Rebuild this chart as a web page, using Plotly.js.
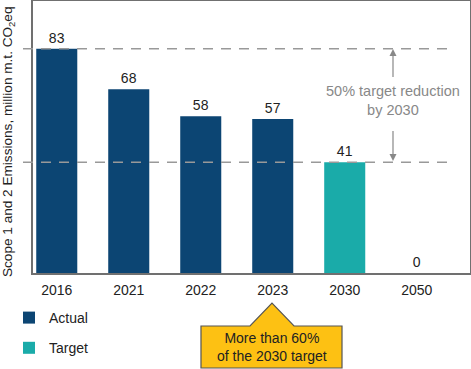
<!DOCTYPE html>
<html><head><meta charset="utf-8">
<script src="https://cdn.plot.ly/plotly-3.0.1.min.js"></script>
<style>html,body{margin:0;padding:0;background:#fff;}#c{width:471px;height:369px;}</style>
</head><body><div id="c"></div>
<script>
const categories = ["2016","2021","2022","2023","2030","2050"];
const actualYears = ["2016","2021","2022","2023"];
const actualValues = [83, 68, 58, 57];
const targetYears = ["2030","2050"];
const targetValues = [41, 0];
const baselineValue = 83;
const target2030Value = 41;
const reductionNote = "50% target reduction<br>by 2030";
const calloutText = "More than 60%<br>of the 2030 target";
const yTitle = "Scope 1 and 2 Emissions, million m.t. CO<sub>2</sub>eq";

const FONT = "Liberation Sans, Arial, sans-serif";
const W = 471, H = 369, L = 33, R = 1, T = 1, B = 96;
const pw = W - L - R, ph = H - T - B;
const px = x => (x - L) / pw;
const py = y => (H - B - y) / ph;
const P = (x, y) => px(x).toFixed(4) + "," + py(y).toFixed(4);

const traces = [
  {type:"bar", name:"Actual", x:actualYears, y:actualValues, legendgroup:"a",
   marker:{color:"#0c4573"}, width:0.57,
   text:actualValues.map(String), textposition:"outside", cliponaxis:false,
   textfont:{family:FONT, size:14, color:"#222"}},
  {type:"bar", name:"Target", x:targetYears, y:targetValues, legendgroup:"t",
   marker:{color:"#1aaba9"}, width:0.57,
   text:targetValues.map(String), textposition:"outside", cliponaxis:false,
   textfont:{family:FONT, size:14, color:"#222"}}
];

const cp = [[201,326],[250,326],[272,303],[294,326],[342,326],[342,368],[201,368]];
const calloutPath = "M" + cp.map(p => P(p[0], p[1])).join(" L") + " Z";
const ax = 393;
const topHead = "M" + P(ax, 49) + " L" + P(ax - 3.5, 56) + " L" + P(ax + 3.5, 56) + " Z";
const botHead = "M" + P(ax, 161) + " L" + P(ax - 3.5, 154) + " L" + P(ax + 3.5, 154) + " Z";

const layout = {
  width:W, height:H, margin:{l:L, r:R, t:T, b:B},
  paper_bgcolor:"#fff", plot_bgcolor:"#fff",
  barmode:"overlay",
  font:{family:FONT, size:14, color:"#222"},
  xaxis:{type:"category", categoryarray:categories, categoryorder:"array",
    range:[-0.33, 5.74], showline:true, mirror:true, linecolor:"#707070", linewidth:2,
    ticks:"", ticklabelstandoff:3, showgrid:false, zeroline:false,
    tickfont:{family:FONT, size:14, color:"#222"}},
  yaxis:{range:[0, 100.7], showline:true, mirror:true, linecolor:"#707070", linewidth:2,
    showticklabels:false, ticks:"", showgrid:false, zeroline:false},
  showlegend:true,
  legend:{x:px(9), y:py(302), xanchor:"left", yanchor:"top", tracegroupgap:9,
    font:{family:FONT, size:14, color:"#222"}, bgcolor:"rgba(0,0,0,0)"},
  shapes:[
    {type:"line", xref:"paper", yref:"y", x0:px(23), x1:px(447), y0:baselineValue, y1:baselineValue,
     line:{color:"#999", width:1.5, dash:"10px,8px"}},
    {type:"line", xref:"paper", yref:"y", x0:px(23), x1:px(447), y0:target2030Value, y1:target2030Value,
     line:{color:"#999", width:1.5, dash:"10px,8px"}},
    {type:"line", xref:"paper", yref:"paper", x0:px(ax), x1:px(ax), y0:py(54), y1:py(77),
     line:{color:"#888", width:1.2}},
    {type:"line", xref:"paper", yref:"paper", x0:px(ax), x1:px(ax), y0:py(131), y1:py(156),
     line:{color:"#888", width:1.2}},
    {type:"path", xref:"paper", yref:"paper", path:topHead, fillcolor:"#888", line:{width:0}},
    {type:"path", xref:"paper", yref:"paper", path:botHead, fillcolor:"#888", line:{width:0}},
    {type:"path", xref:"paper", yref:"paper", path:calloutPath,
     fillcolor:"#fdc113", line:{color:"#555", width:1.2}}
  ],
  annotations:[
    {xref:"paper", yref:"paper", x:px(ax), y:py(100), xanchor:"center", yanchor:"middle",
     text:reductionNote, showarrow:false, font:{family:FONT, size:14.5, color:"#888"}, align:"center"},
    {xref:"paper", yref:"paper", x:px(271.5), y:py(346.5), xanchor:"center", yanchor:"middle",
     text:calloutText, showarrow:false, font:{family:FONT, size:14, color:"#222"}, align:"center"},
    {xref:"paper", yref:"paper", x:px(9), y:py(142), xanchor:"center", yanchor:"middle",
     textangle:-90, text:yTitle, showarrow:false, font:{family:FONT, size:13.6, color:"#222"}}
  ]
};
Plotly.newPlot("c", traces, layout, {displayModeBar:false, staticPlot:true});
</script></body></html>
